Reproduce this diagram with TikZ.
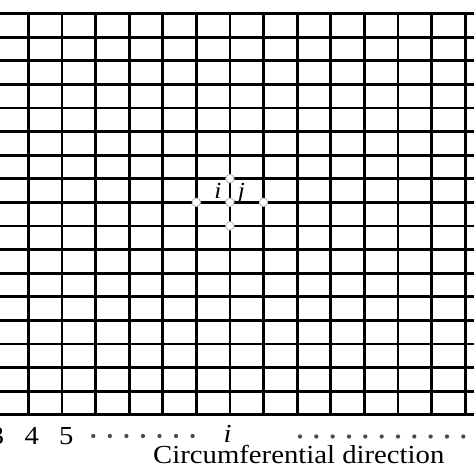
\documentclass[tikz,border=0pt]{standalone}
\usepackage{fontspec}
\setmainfont{Liberation Serif}
\begin{document}
\begin{tikzpicture}[x=1pt,y=-1pt,
  gridline/.style={line width=2.8pt,black},
  knot/.style={circle,draw=gray!55,fill=white,line width=0.9pt,inner sep=0pt,minimum size=8.5pt},
  numlbl/.style={font=\fontsize{26}{30}\selectfont,anchor=base,inner sep=0pt},
  smalllbl/.style={font=\fontsize{23}{26}\selectfont,anchor=base,inner sep=0pt},
  dotmark/.style={circle,fill=black!70,inner sep=0pt,minimum size=4.3pt}]
\useasboundingbox (0,0) rectangle (474,474);
\foreach \k in {0,...,17} \draw[gridline] (0,13.5+\k*23.6) -- (474,13.5+\k*23.6);
\foreach \k in {0,...,13} \draw[gridline] (28.3+\k*33.6,13.5) -- (28.3+\k*33.6,414.7);
% marked points
\node[knot] (c) at (229.9,202.3) {};
\node[knot] (l) at (196.3,202.3) {};
\node[knot] (r) at (263.5,202.3) {};
\node[knot] (u) at (229.9,178.7) {};
\node[knot] (d) at (229.9,225.9) {};
\node[smalllbl] (li) at (218,198) {\scalebox{1.1}[1]{\itshape i}};
\node[smalllbl] (lj) at (241.5,198) {\scalebox{1.1}[1]{\itshape j}};
% bottom labels
\node[numlbl] (n3) at (-3,444) {\scalebox{1.1}[1]{3}};
\node[numlbl] (n4) at (31.7,444) {\scalebox{1.1}[1]{4}};
\node[numlbl] (n5) at (66.3,444) {\scalebox{1.1}[1]{5}};
\foreach \k in {0,...,6} \node[dotmark] (ld\k) at (93.3+\k*16.55,436) {};
\node[numlbl] (ni) at (227.5,442.5) {\scalebox{1.1}[1]{\itshape i}};
\foreach \k in {0,...,10} \node[dotmark] (rd\k) at (300+\k*16.33,436.5) {};
\node[numlbl,anchor=base west] (cd) at (153,463.5) {\scalebox{1.105}[1]{Circumferential direction}};
\end{tikzpicture}
\end{document}
